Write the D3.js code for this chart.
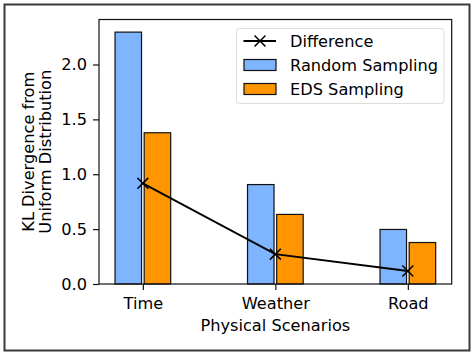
<!DOCTYPE html>
<html><head><meta charset="utf-8">
<script src="https://cdn.jsdelivr.net/npm/d3@7"></script>
<style>body{margin:0;background:#fff}text{font-family:"DejaVu Sans",sans-serif;fill:#000}</style>
</head><body><svg id="c" width="474" height="355"></svg>
<script>
const categories = ["Time", "Weather", "Road"];
const randomVals = [2.295, 0.906, 0.497];
const edsVals = [1.378, 0.634, 0.378];
const diffVals = [0.917, 0.272, 0.119];
const yTicks = [0.0, 0.5, 1.0, 1.5, 2.0];
const seriesNames = ["Difference", "Random Sampling", "EDS Sampling"];

const FS = 16.2;
const svg = d3.select("#c");
const L = 99, R = 451.7, T = 19.5, B = 284;
const x = d3.scaleLinear().domain([-0.331, 2.331]).range([L, R]);
const y = d3.scaleLinear().domain([0, 2.41]).range([B, T]);
const bw = 0.2, off = 0.11;
const blue = "#7fb4ff", orange = "#ff9500";

// outer frame
svg.append("rect").attr("x", 4.5).attr("y", 4.5).attr("width", 465).attr("height", 346)
  .attr("fill", "none").attr("stroke", "#3a3a3a").attr("stroke-width", 2);

const g = svg.append("g");
g.selectAll(".rb").data(randomVals).join("rect")
  .attr("x", (d,i) => x(i - off - bw/2)).attr("width", x(bw) - x(0))
  .attr("y", d => y(d)).attr("height", d => y(0) - y(d))
  .attr("fill", blue).attr("stroke", "#111").attr("stroke-width", 1.2);
g.selectAll(".eb").data(edsVals).join("rect")
  .attr("x", (d,i) => x(i + off - bw/2)).attr("width", x(bw) - x(0))
  .attr("y", d => y(d)).attr("height", d => y(0) - y(d))
  .attr("fill", orange).attr("stroke", "#111").attr("stroke-width", 1.2);

const line = d3.line().x((d,i) => x(i)).y(d => y(d));
g.append("path").datum(diffVals).attr("d", line).attr("fill", "none")
  .attr("stroke", "#000").attr("stroke-width", 2);
const cross = d3.symbol().type(d3.symbolX).size(80);
g.selectAll(".mk").data(diffVals).join("path")
  .attr("transform", (d,i) => `translate(${x(i)},${y(d)})`)
  .attr("d", cross()).attr("fill", "none").attr("stroke", "#000").attr("stroke-width", 1.5);

svg.append("rect").attr("x", L).attr("y", T).attr("width", R - L).attr("height", B - T)
  .attr("fill", "none").attr("stroke", "#111").attr("stroke-width", 1.2);

const ya = svg.append("g").attr("transform", `translate(${L},0)`)
  .call(d3.axisLeft(y).tickValues(yTicks).tickFormat(d3.format(".1f")).tickSize(6).tickPadding(6));
ya.select(".domain").remove();
ya.selectAll("text").attr("font-size", FS).attr("font-family", "DejaVu Sans").attr("fill", "#000");
ya.selectAll("line").attr("stroke", "#111").attr("stroke-width", 1.2);

const xa = svg.append("g").attr("transform", `translate(0,${B})`)
  .call(d3.axisBottom(x).tickValues([0,1,2]).tickFormat(i => categories[i]).tickSize(6).tickPadding(7));
xa.select(".domain").remove();
xa.selectAll("text").attr("font-size", FS).attr("font-family", "DejaVu Sans").attr("fill", "#000");
xa.selectAll("line").attr("stroke", "#111").attr("stroke-width", 1.2);

svg.append("text").attr("x", (L + R)/2).attr("y", 331).attr("text-anchor", "middle")
  .attr("font-size", FS).text("Physical Scenarios");
const yl = svg.append("text").attr("transform", `translate(0,${(T+B)/2}) rotate(-90)`)
  .attr("text-anchor", "middle").attr("font-size", FS);
yl.append("tspan").attr("x", 0).attr("y", 34).text("KL Divergence from");
yl.append("tspan").attr("x", 0).attr("y", 51).text("Uniform Distribution");

const lg = svg.append("g");
lg.append("rect").attr("x", 236.5).attr("y", 28.5).attr("width", 207.5).attr("height", 75)
  .attr("rx", 3).attr("fill", "#fff").attr("fill-opacity", 0.8).attr("stroke", "#ddd");
const ly = [41, 65, 89];
lg.append("line").attr("x1", 243.5).attr("x2", 276).attr("y1", ly[0]).attr("y2", ly[0])
  .attr("stroke", "#000").attr("stroke-width", 2);
lg.append("path").attr("transform", `translate(260,${ly[0]})`).attr("d", cross())
  .attr("fill", "none").attr("stroke", "#000").attr("stroke-width", 1.5);
[blue, orange].forEach((c, k) => {
  lg.append("rect").attr("x", 244).attr("y", ly[k+1] - 5.5).attr("width", 32).attr("height", 11)
    .attr("fill", c).attr("stroke", "#111").attr("stroke-width", 1.2);
});
seriesNames.forEach((s, k) => {
  lg.append("text").attr("x", 290).attr("y", ly[k] + 5.8).attr("font-size", FS).text(s);
});
</script></body></html>
